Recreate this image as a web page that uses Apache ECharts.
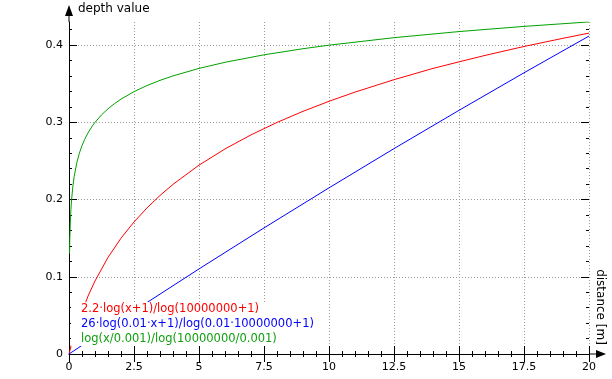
<!DOCTYPE html>
<html>
<head>
<meta charset="utf-8">
<script src="https://cdn.jsdelivr.net/npm/echarts@6/dist/echarts.min.js"></script>
<style>
html,body{margin:0;padding:0;background:#fff;}
#chart{width:612px;height:379px;}
</style>
</head>
<body>
<div id="chart"></div>
<script>
// ---- data ----
const redX   = [0, 0.1, 0.25, 0.5, 0.75, 1, 1.5, 2, 2.5, 3, 3.5, 4, 5, 6, 7, 8, 9, 10, 11, 12.5, 14, 15, 16, 17.5, 19, 20];
const redY   = [0, 0.0130, 0.0305, 0.0553, 0.0764, 0.0946, 0.1251, 0.1500, 0.1710, 0.1892, 0.2053, 0.2197, 0.2446, 0.2656, 0.2838, 0.2999, 0.3143, 0.3273, 0.3392, 0.3553, 0.3699, 0.3784, 0.3867, 0.3983, 0.4089, 0.4156];
const blueX  = [0, 2.5, 5, 7.5, 10, 12.5, 15, 17.5, 20];
const blueY  = [0, 0.0558, 0.1102, 0.1633, 0.2152, 0.2660, 0.3156, 0.3642, 0.4118];
const greenX = [0.02, 0.03, 0.05, 0.075, 0.1, 0.15, 0.2, 0.3, 0.4, 0.5, 0.6, 0.75, 0.9, 1, 1.25, 1.5, 1.75, 2, 2.5, 3, 3.5, 4, 5, 6, 7.5, 9, 10, 12.5, 15, 17.5, 20];
const greenY = [0.1301, 0.1477, 0.1699, 0.1875, 0.2000, 0.2176, 0.2301, 0.2477, 0.2602, 0.2699, 0.2778, 0.2875, 0.2954, 0.3000, 0.3097, 0.3176, 0.3243, 0.3301, 0.3398, 0.3477, 0.3544, 0.3602, 0.3699, 0.3778, 0.3875, 0.3954, 0.4000, 0.4097, 0.4176, 0.4243, 0.4301];
const seriesNames = [
  '2.2·log(x+1)/log(10000000+1)',
  '26·log(0.01·x+1)/log(0.01·10000000+1)',
  'log(x/0.001)/log(10000000/0.001)'
];
const yMajorTicks = [0, 0.1, 0.2, 0.3, 0.4];
const yMinorTicks = [0.02, 0.04, 0.06, 0.08, 0.12, 0.14, 0.16, 0.18, 0.22, 0.24, 0.26, 0.28, 0.32, 0.34, 0.36, 0.38, 0.42];
const xAxisName = 'distance [m]';
const yAxisName = 'depth value';

// ---- layout ----
const L = 69, R = 589, T = 22, B = 354;
const FONT = 'DejaVu Sans';
const colors = ['#ff0000', '#0000ff', '#00a000'];

const zip = (xs, ys) => xs.map((x, i) => [x, ys[i]]);

const chart = echarts.init(document.getElementById('chart'), null, {renderer: 'canvas'});

const gridLine = {show: true, lineStyle: {color: '#999', type: [1, 2], width: 1}};
const black = '#000';

const option = {
  animation: false,
  backgroundColor: '#fff',
  grid: {left: L, right: 612 - R, top: T, bottom: 379 - B, containLabel: false},
  xAxis: [
    {
      type: 'value', position: 'bottom', min: 0, max: 20, interval: 2.5,
      axisLine: {show: true, lineStyle: {color: black, width: 1}},
      axisTick: {show: true, inside: true, length: 8, lineStyle: {color: black}},
      minorTick: {show: true, splitNumber: 5, length: 3, lineStyle: {color: black}},
      splitLine: gridLine,
      axisLabel: {color: black, fontFamily: FONT, fontSize: 11, margin: 8}
    },
    {
      type: 'value', position: 'top', min: 0, max: 20, interval: 2.5,
      axisLine: {show: false},
      axisTick: {show: true, inside: true, length: 8, lineStyle: {color: black}},
      minorTick: {show: true, splitNumber: 5, length: 3, lineStyle: {color: black}},
      splitLine: {show: false},
      axisLabel: {show: false}
    }
  ],
  yAxis: [
    {
      type: 'value', position: 'left', min: 0, max: 0.43, interval: 0.1,
      axisLine: {show: true, lineStyle: {color: black, width: 1}},
      axisTick: {show: true, inside: true, length: 8, lineStyle: {color: black}, customValues: yMajorTicks},
      splitLine: gridLine,
      axisLabel: {color: black, fontFamily: FONT, fontSize: 11, margin: 6, customValues: yMajorTicks}
    },
    {
      type: 'value', position: 'left', min: 0, max: 0.43, interval: 0.02,
      axisLine: {show: false},
      axisTick: {show: true, inside: true, length: 3, lineStyle: {color: black}, customValues: yMinorTicks},
      splitLine: {show: false},
      axisLabel: {show: false}
    },
    {
      type: 'value', position: 'right', min: 0, max: 0.43, interval: 0.1,
      axisLine: {show: false},
      axisTick: {show: true, inside: true, length: 8, lineStyle: {color: black}, customValues: yMajorTicks},
      splitLine: {show: false},
      axisLabel: {show: false}
    },
    {
      type: 'value', position: 'right', min: 0, max: 0.43, interval: 0.02,
      axisLine: {show: false},
      axisTick: {show: true, inside: true, length: 3, lineStyle: {color: black}, customValues: yMinorTicks},
      splitLine: {show: false},
      axisLabel: {show: false}
    }
  ],
  series: [
    {name: seriesNames[0], type: 'line', data: zip(redX, redY), xAxisIndex: 0, yAxisIndex: 0,
     smooth: false, showSymbol: false, symbol: 'none', lineStyle: {color: colors[0], width: 1}, z: 3},
    {name: seriesNames[1], type: 'line', data: zip(blueX, blueY), xAxisIndex: 0, yAxisIndex: 0,
     smooth: false, showSymbol: false, symbol: 'none', lineStyle: {color: colors[1], width: 1}, z: 3},
    {name: seriesNames[2], type: 'line', data: zip(greenX, greenY), xAxisIndex: 0, yAxisIndex: 0,
     smooth: false, showSymbol: false, symbol: 'none', lineStyle: {color: colors[2], width: 1}, z: 3}
  ],
  graphic: [
    // axis arrows
    {type: 'line', z: 50, shape: {x1: L, y1: T, x2: L, y2: 14}, style: {stroke: black, lineWidth: 1}},
    {type: 'polygon', z: 50, shape: {points: [[L, 5], [L - 4, 16], [L + 4, 16]]}, style: {fill: black}},
    {type: 'line', z: 50, shape: {x1: R, y1: B, x2: 598, y2: B}, style: {stroke: black, lineWidth: 1}},
    {type: 'polygon', z: 50, shape: {points: [[606, B], [596, B - 4], [596, B + 4]]}, style: {fill: black}},
    // axis names
    {type: 'text', z: 50, x: 78, y: 9, style: {text: yAxisName, fill: black, font: '12px "' + FONT + '"', textVerticalAlign: 'middle', textAlign: 'left'}},
    {type: 'text', z: 50, x: 600, y: 307, rotation: -Math.PI / 2,
     style: {text: xAxisName, fill: black, font: '12px "' + FONT + '"', textVerticalAlign: 'middle', textAlign: 'center'}},
    // legend box
    {type: 'rect', z: 40, shape: {x: 71, y: 302, width: 242, height: 44}, style: {fill: '#fff'}},
    {type: 'text', z: 50, x: 81, y: 309.5, style: {text: seriesNames[0], fill: colors[0], font: '11.5px "' + FONT + '"', textVerticalAlign: 'middle'}},
    {type: 'text', z: 50, x: 81, y: 324.5, style: {text: seriesNames[1], fill: colors[1], font: '11.5px "' + FONT + '"', textVerticalAlign: 'middle'}},
    {type: 'text', z: 50, x: 81, y: 339.5, style: {text: seriesNames[2], fill: '#10a010', font: '11.5px "' + FONT + '"', textVerticalAlign: 'middle'}}
  ]
};
chart.setOption(option);
</script>
</body>
</html>
